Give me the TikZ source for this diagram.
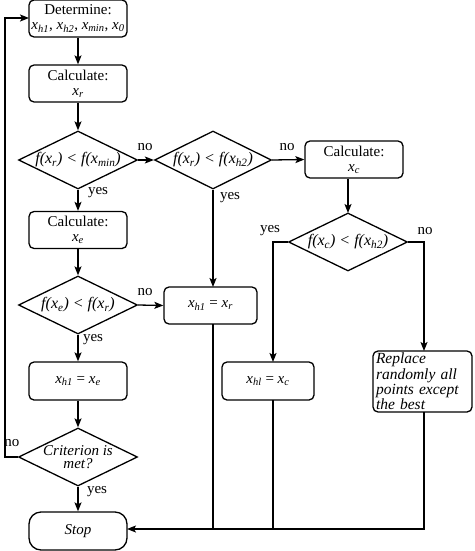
\documentclass[tikz,border=0pt]{standalone}
\usepackage{fontspec}
\setmainfont{Liberation Serif}
\usetikzlibrary{shapes.geometric,arrows.meta}
\newcommand{\xsub}[1]{\textit{x}\textsubscript{\textit{#1}}}
\tikzset{
  every node/.style={font=\fontsize{15}{15}\selectfont},
  box/.style={draw, rounded corners=5pt, line width=1.3pt, minimum width=98pt, minimum height=37pt, inner sep=1pt, align=center},
  dia/.style={draw, shape=diamond, line width=1.3pt, inner sep=0pt, minimum width=119pt, minimum height=58pt},
  ln/.style={line width=1.3pt},
  arr/.style={line width=1.3pt, -{Stealth[length=9pt,width=7pt,inset=2pt]}},
  lab/.style={inner sep=0pt}
}
\begin{document}
\begin{tikzpicture}[x=1pt,y=-1pt]
\useasboundingbox (0,0) rectangle (474,551);
% nodes
\node[box] (det) at (78,18.5) {Determine:\\ \xsub{h1}, \xsub{h2}, \xsub{min}, \xsub{0}};
\node[box] (calcr) at (78,83.5) {Calculate:\\ \xsub{r}};
\node[dia, label=center:{\fontsize{16}{16}\selectfont\itshape f(\xsub{r}) < f(\xsub{min})}] (d1) at (78,160) {};
\node[dia, minimum width=117pt, label=center:{\fontsize{16}{16}\selectfont\itshape f(\xsub{r}) < f(\xsub{h2})}] (d2) at (213,160) {};
\node[box] (calcc) at (354,159.5) {Calculate:\\ \xsub{c}};
\node[dia, label=center:{\fontsize{16}{16}\selectfont\itshape f(\xsub{c}) < f(\xsub{h2})}] (d3) at (348,242) {};
\node[box] (calce) at (78,230) {Calculate:\\ \xsub{e}};
\node[dia, label=center:{\fontsize{16}{16}\selectfont\itshape f(\xsub{e}) < f(\xsub{r})}] (d4) at (78,305) {};
\node[box, minimum width=93pt] (xr) at (210.5,305.5) {\xsub{h1} = \xsub{r}};
\node[box, minimum height=38pt] (xe) at (78,381) {\xsub{h1} = \xsub{e}};
\node[box, minimum width=92pt, minimum height=38pt] (xc) at (268,381) {\xsub{hl} = \xsub{c}};
\node[box, minimum width=99pt, minimum height=61pt, text width=93pt, align=left, inner sep=2pt, font=\fontsize{15.5}{15.3}\selectfont\itshape] (repl) at (422.5,381.5) {Replace\\ randomly all\\ points except\\ the best};
\node[dia, label=center:{\parbox{80pt}{\centering\itshape\fontsize{15}{13.5}\selectfont Criterion is\\ met?}}] (d5) at (78,457) {};
\node[box, rounded corners=12pt, minimum height=38pt, font=\fontsize{15}{15}\selectfont\itshape] (stop) at (78,531) {Stop};
% coordinates
\coordinate (c3top) at (348,213);
\coordinate (y3l) at (273,242);
\coordinate (y3r) at (424,242);
\coordinate (xctop) at (273,362);
\coordinate (repltop) at (424,351);
\coordinate (xrtop) at (213,287);
\coordinate (xrbot) at (213,324);
\coordinate (xrend) at (213,529);
\coordinate (xcbot) at (273,400);
\coordinate (xcend) at (273,529);
\coordinate (rbot) at (424,412);
\coordinate (rend) at (424,529);
\coordinate (stopr) at (127,529);
\coordinate (loopb) at (5,457);
\coordinate (loopt) at (5,18);
\coordinate (detl) at (29,18);
% connectors
\draw[arr] (det) -- (calcr);
\draw[arr] (calcr) -- (d1);
\draw[arr] (d1.east) -- (d2.west);
\draw[arr] (d1.south) -- (calce);
\draw[arr] (d2.south) -- (xrtop);
\draw[arr] (d2.east) -- (calcc.west);
\draw[arr] (calcc.south -| c3top) -- (c3top);
\draw[arr] (d3.west) -- (y3l) -- (xctop);
\draw[arr] (d3.east) -- (y3r) -- (repltop);
\draw[arr] (calce) -- (d4);
\draw[arr] (d4.east) -- (xr.west);
\draw[arr] (d4.south) -- (xe);
\draw[arr] (xe) -- (d5);
\draw[arr] (d5.south) -- (stop);
\draw[ln] (xrbot) -- (xrend);
\draw[ln] (xcbot) -- (xcend);
\draw[arr] (rbot) -- (rend) -- (stopr);
\draw[arr] (d5.west) -- (loopb) -- (loopt) -- (detl);
% labels
\node[lab] (n1) at (145,147) {no};
\node[lab] (y1) at (98,193) {yes};
\node[lab] (n2) at (287,147) {no};
\node[lab] (y2) at (230,198) {yes};
\node[lab] (y3) at (270,231) {yes};
\node[lab] (n3) at (425,231) {no};
\node[lab] (n4) at (145,292) {no};
\node[lab] (y4) at (93,340) {yes};
\node[lab] (n5) at (12,443) {no};
\node[lab] (y5) at (97,492) {yes};
\end{tikzpicture}
\end{document}
